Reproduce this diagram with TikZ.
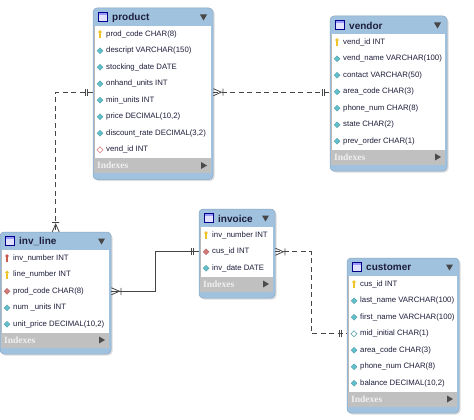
\documentclass[tikz,border=0pt]{standalone}
\usepackage{fontspec}
\setmainfont{Liberation Sans}
\newfontfamily\idxfont{Liberation Serif}
\usetikzlibrary{calc}

\definecolor{hdrblue}{RGB}{160,194,222}
\definecolor{hdrline}{RGB}{136,168,198}
\definecolor{idxgray}{RGB}{192,192,192}
\definecolor{rowink}{RGB}{30,30,60}
\definecolor{keygold}{RGB}{238,196,40}
\definecolor{keyred}{RGB}{200,90,80}
\definecolor{colcyan}{RGB}{96,192,204}
\definecolor{fkred}{RGB}{212,120,120}
\definecolor{linkgray}{RGB}{70,70,70}

\begin{document}
\begin{tikzpicture}[x=1pt,y=-1pt,
  rowtext/.style={anchor=west, inner sep=0pt, minimum height=16.5pt,
    text=rowink, font=\fontsize{7.8}{9}\selectfont},
  link/.style={draw=linkgray, line width=0.8pt},
  dashlink/.style={link, dash pattern=on 5pt off 3.5pt}]

\useasboundingbox (0,0) rectangle (474,420);
\fill[white] (0,0) rectangle (474,420);

% ------------------------------------------------------------------
% Column icons, drawn at the origin of the row
% ------------------------------------------------------------------
\newcommand{\iconpk}{%
  \fill[keygold] (0,-2.2) circle (1.9);
  \fill[keygold] (-0.6,-1) rectangle (0.6,4);}
\newcommand{\iconpkfk}{%
  \fill[keyred] (0,-2.2) circle (1.9);
  \fill[keyred] (-0.6,-1) rectangle (0.6,4);}
\newcommand{\iconcol}{%
  \filldraw[fill=colcyan, draw=colcyan!70!black, line width=0.3pt]
    (-3,0) -- (0,-3) -- (3,0) -- (0,3) -- cycle;}
\newcommand{\iconcolnull}{%
  \draw[colcyan!80!black, line width=0.5pt]
    (-3,0) -- (0,-3) -- (3,0) -- (0,3) -- cycle;}
\newcommand{\iconfk}{%
  \filldraw[fill=fkred, draw=fkred!70!black, line width=0.3pt]
    (-3,0) -- (0,-3) -- (3,0) -- (0,3) -- cycle;}
\newcommand{\iconfknull}{%
  \draw[fkred, line width=0.5pt]
    (-3,0) -- (0,-3) -- (3,0) -- (0,3) -- cycle;}

% ------------------------------------------------------------------
% A table is specified as:
% \erdtable{name}{title}{x}{y}{width}{rows}{icon/text, ...}
% Rows are 16.5 units high, the header 18, the Indexes bar 15.
% ------------------------------------------------------------------
\newcommand{\erdtable}[7]{%
  \pgfmathsetmacro\tabh{18+#6*16.5+21.5}
  \pgfmathsetmacro\idxy{#4+18+#6*16.5}
  \fill[black!13, rounded corners=4pt] (#3+1.5,#4+1.5) rectangle ++(#5,\tabh);
  \filldraw[fill=hdrblue, draw=hdrline, line width=0.5pt, rounded corners=4pt]
    (#3,#4) rectangle ++(#5,\tabh);
  \node[inner sep=0pt, minimum width=#5pt, minimum height=\tabh pt,
    anchor=north west] (#1) at (#3,#4) {};
  \fill[white] (#3+1.2,#4+18) rectangle (#3+#5-2.5,\idxy);
  \draw[gray!55, line width=0.4pt] (#3+1.2,#4+18) -- (#3+1.2,\idxy);
  \fill[idxgray] (#3+1.2,\idxy) rectangle (#3+#5-2.5,\idxy+15);
  % header
  \begin{scope}[shift={(#3+5,#4+4.5)}]
    \filldraw[fill=blue!12, draw=blue!55!black, line width=0.5pt] (0,0) rectangle (9,9);
    \fill[blue!40] (0.5,0.5) rectangle (8.5,2.3);
  \end{scope}
  \node[anchor=west, inner sep=0pt, text=rowink,
    font=\bfseries\fontsize{10}{12}\selectfont] at (#3+19,#4+9.5) {#2};
  \fill[gray!55!black] (#3+#5-13,#4+6.5) -- ++(7,0) -- ++(-3.5,6) -- cycle;
  % columns
  \foreach \ic/\txt [count=\i] in {#7}{
    \node[rowtext] (#1-\i) at (#3+13,#4+18+\i*16.5-8.25) {\txt};
    \begin{scope}[shift={(#3+7,#4+18+\i*16.5-8.25)}]
      \ic
    \end{scope}
  }
  % indexes bar
  \node[anchor=west, inner sep=0pt, text=white!88!gray,
    font=\idxfont\bfseries\fontsize{9.5}{11}\selectfont] at (#3+4,\idxy+7.5) {Indexes};
  \fill[gray!60!black] (#3+#5-12,\idxy+4) -- ++(6,3.5) -- ++(-6,3.5) -- cycle;
}

% Relationship ends: \onemark / \manymark {coordinate}{outward angle}
\newcommand{\onemark}[2]{%
  \begin{scope}[shift={(#1)}, rotate=#2]
    \draw[link, solid] (5.5,-3.5) -- (5.5,3.5) (8,-3.5) -- (8,3.5);
  \end{scope}}
\newcommand{\manymark}[2]{%
  \begin{scope}[shift={(#1)}, rotate=#2]
    \draw[link, solid] (0,-3.5) -- (8,0) -- (0,3.5) (9.5,-3.5) -- (9.5,3.5);
  \end{scope}}

% Tables
\erdtable{product}{product}{93}{8}{120}{8}{\iconpk/prod\_code CHAR(8),
  \iconcol/descript VARCHAR(150), \iconcol/stocking\_date DATE,
  \iconcol/onhand\_units INT, \iconcol/min\_units INT,
  \iconcol/{price DECIMAL(10,2)}, \iconcol/{discount\_rate DECIMAL(3,2)},
  \iconfknull/vend\_id INT}
\erdtable{vendor}{vendor}{330}{16}{117}{7}{\iconpk/vend\_id INT,
  \iconcol/vend\_name VARCHAR(100), \iconcol/contact VARCHAR(50),
  \iconcol/area\_code CHAR(3), \iconcol/phone\_num CHAR(8),
  \iconcol/state CHAR(2), \iconcol/prev\_order CHAR(1)}
\erdtable{invline}{inv\_line}{0}{232}{111}{5}{\iconpkfk/inv\_number INT,
  \iconpk/line\_number INT, \iconfk/prod\_code CHAR(8),
  \iconcol/num \_units INT, \iconcol/{unit\_price DECIMAL(10,2)}}
\erdtable{invoice}{invoice}{199}{209}{76}{3}{\iconpk/inv\_number INT,
  \iconfk/cus\_id INT, \iconcol/inv\_date DATE}
\erdtable{customer}{customer}{347}{258}{112}{7}{\iconpk/cus\_id INT,
  \iconcol/last\_name VARCHAR(100), \iconcol/first\_name VARCHAR(100),
  \iconcolnull/mid\_initial CHAR(1), \iconcol/area\_code CHAR(3),
  \iconcol/phone\_num CHAR(8), \iconcol/{balance DECIMAL(10,2)}}

% Relationships
\coordinate (prodW) at (product-4.south -| product.west);
\draw[dashlink] (prodW) -| (invline.north);
\onemark{prodW}{180}
\manymark{invline.north}{90}

\coordinate (prodE) at (product-4.south -| product.east);
\coordinate (vendW) at (prodE -| vendor.west);
\draw[dashlink] (prodE) -- (vendW);
\manymark{prodE}{0}
\onemark{vendW}{180}

\coordinate (lineE) at (invline-3 -| invline.east);
\coordinate (invW) at (invoice-2 -| invoice.west);
\draw[link] (lineE) -- ++(44,0) |- (invW);
\manymark{lineE}{0}
\onemark{invW}{180}

\coordinate (invE) at (invoice-2 -| invoice.east);
\coordinate (custW) at (customer-4 -| customer.west);
\draw[dashlink] (invE) -- ++(36,0) |- (custW);
\manymark{invE}{0}
\onemark{custW}{180}

\end{tikzpicture}
\end{document}
